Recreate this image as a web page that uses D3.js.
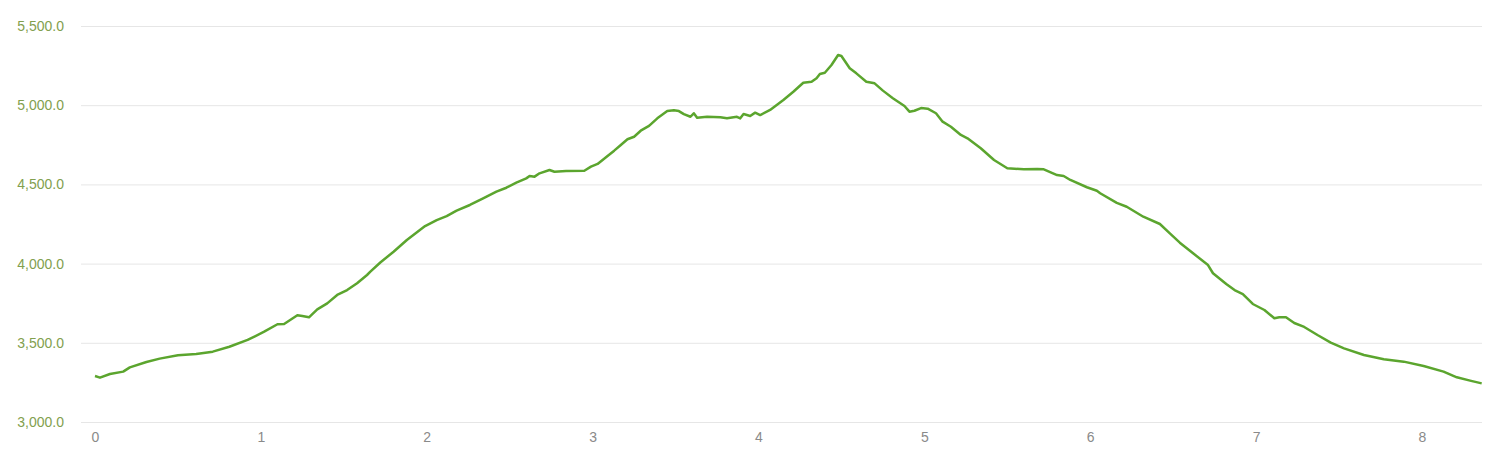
<!DOCTYPE html>
<html>
<head>
<meta charset="utf-8">
<script src="https://cdn.jsdelivr.net/npm/d3@7"></script>
<style>
  body { margin: 0; background: #fff; }
  svg { display: block; font-family: "Open Sans", "Noto Sans", sans-serif; }
  .grid line { stroke: #e6e6e6; stroke-width: 1; }
  .grid path { display: none; }
  .y-axis text { fill: #82a04e; font-size: 14px; }
  .x-axis text { fill: #8a8a8a; font-size: 14px; }
  .y-axis path, .y-axis line, .x-axis path, .x-axis line { display: none; }
</style>
</head>
<body>
<svg id="chart" width="1500" height="462"></svg>
<script>
// distance (km)
const distance = [
  0, 0.03, 0.09, 0.17, 0.21, 0.31, 0.39, 0.50, 0.61, 0.71, 0.81, 0.92,
  1.02, 1.10, 1.14, 1.22, 1.25, 1.29, 1.34, 1.40, 1.46, 1.52, 1.58, 1.64, 1.66,
  1.72, 1.80, 1.88, 1.99, 2.06, 2.12, 2.18, 2.26, 2.34, 2.42, 2.48, 2.54, 2.60,
  2.62, 2.65, 2.68, 2.74, 2.77, 2.84, 2.95, 2.99, 3.03, 3.09, 3.13, 3.17, 3.21,
  3.25, 3.29, 3.34, 3.39, 3.45, 3.49, 3.52, 3.55, 3.59, 3.61, 3.63, 3.69, 3.77,
  3.81, 3.87, 3.89, 3.91, 3.95, 3.98, 4.01, 4.07, 4.15, 4.21, 4.27, 4.32, 4.35,
  4.37, 4.40, 4.44, 4.48, 4.50, 4.55, 4.59, 4.65, 4.70, 4.75, 4.81, 4.88, 4.91,
  4.94, 4.98, 5.02, 5.07, 5.11, 5.16, 5.22, 5.26, 5.34, 5.42, 5.50, 5.60, 5.68,
  5.72, 5.80, 5.84, 5.88, 5.98, 6.04, 6.06, 6.16, 6.22, 6.32, 6.42, 6.48, 6.54,
  6.62, 6.71, 6.74, 6.82, 6.87, 6.92, 6.98, 7.05, 7.11, 7.14, 7.18, 7.23, 7.29,
  7.37, 7.45, 7.53, 7.65, 7.77, 7.89, 8.01, 8.13, 8.21, 8.29, 8.36
];

// elevation (m)
const elevation = [
  3290, 3280, 3303, 3318, 3345, 3379, 3400, 3421, 3429, 3444, 3475, 3518,
  3570, 3617, 3619, 3674, 3669, 3661, 3711, 3749, 3802, 3833, 3876, 3928, 3949,
  4007, 4075, 4149, 4237, 4275, 4300, 4334, 4370, 4412, 4454, 4479, 4511, 4538,
  4553, 4549, 4570, 4591, 4580, 4585, 4586, 4612, 4629, 4679, 4713, 4749, 4785,
  4801, 4839, 4869, 4917, 4963, 4968, 4963, 4944, 4927, 4949, 4921, 4927, 4924,
  4917, 4927, 4917, 4944, 4932, 4953, 4938, 4970, 5033, 5085, 5142, 5148, 5170,
  5197, 5205, 5254, 5317, 5311, 5233, 5201, 5148, 5138, 5092, 5044, 4995, 4959,
  4965, 4982, 4978, 4949, 4896, 4864, 4812, 4791, 4728, 4654, 4602, 4595, 4597,
  4595, 4559, 4553, 4528, 4482, 4460, 4444, 4383, 4359, 4296, 4250, 4191, 4132,
  4065, 3991, 3939, 3871, 3833, 3808, 3745, 3707, 3655, 3661, 3661, 3625, 3600,
  3549, 3501, 3465, 3423, 3396, 3381, 3354, 3318, 3282, 3261, 3244
];

const yTicks = [3000, 3500, 4000, 4500, 5000, 5500];
const xTicks = [0, 1, 2, 3, 4, 5, 6, 7, 8];

const svg = d3.select('#chart');
const plotLeft = 81, plotRight = 1482;

const xScale = d3.scaleLinear()
    .domain([0, 8.36])
    .range([95, 1481.7]);
const yScale = d3.scaleLinear()
    .domain([3000, 5500])
    .range([422, 26]);

// horizontal grid
svg.append('g')
    .attr('class', 'grid')
    .attr('transform', `translate(${plotLeft}, 0)`)
    .call(d3.axisLeft(yScale)
        .tickValues(yTicks)
        .tickSize(-(plotRight - plotLeft))
        .tickFormat(''));

svg.append('g')
    .attr('class', 'y-axis')
    .attr('transform', 'translate(64, 0)')
    .call(d3.axisLeft(yScale)
        .tickValues(yTicks)
        .tickSize(0)
        .tickPadding(0)
        .tickFormat(d3.format(',.1f')));

svg.append('g')
    .attr('class', 'x-axis')
    .attr('transform', 'translate(0, 430)')
    .call(d3.axisBottom(xScale)
        .tickValues(xTicks)
        .tickSize(0)
        .tickPadding(2)
        .tickFormat(d3.format('d')));

const points = distance.map((d, i) => [d, elevation[i]]);

svg.append('path')
    .datum(points)
    .attr('fill', 'none')
    .attr('stroke', '#5ba52e')
    .attr('stroke-width', 2.5)
    .attr('stroke-linejoin', 'round')
    .attr('d', d3.line()
        .x((p) => xScale(p[0]))
        .y((p) => yScale(p[1])));
</script>
</body>
</html>
